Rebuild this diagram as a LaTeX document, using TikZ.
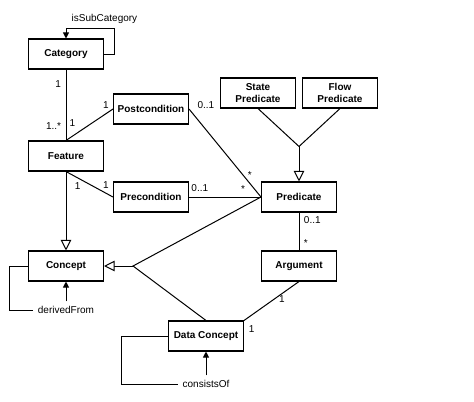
\documentclass[tikz,border=0pt]{standalone}
\usepackage{fontspec}
\setmainfont{Liberation Sans}
\usepackage{xcolor}
\usepackage{tikz}
\usetikzlibrary{arrows.meta, positioning}

\begin{document}
\begin{tikzpicture}[node distance=2cm, on grid,
        font=\fontsize{7.5}{9}\selectfont, line width=0.75pt,
        classbox/.style={draw, line width=0.8pt, minimum width=56.25pt, minimum height=22.5pt,
            inner sep=1pt, align=center, font=\fontsize{7.5}{9}\selectfont\bfseries},
        gen/.style={-{Triangle[open, length=8pt, width=8pt, fill=white]}},
        selfref/.style={-{Triangle[length=4.5pt, width=4.5pt]}}]
        \node[classbox] (category) {Category};
        \node[classbox] (feature) [below=76.5pt of category] {Feature};
        \node[classbox] (concept) [below=82.5pt of feature] {Concept};
        \node[classbox] (post) [above right=35.25pt and 63.75pt of feature] {Postcondition};
        \node[classbox] (pre) [below=66pt of post] {Precondition};
        \node[classbox] (predicate) [right=111pt of pre] {Predicate};
        \node[classbox] (argument) [below=51.75pt of predicate] {Argument};
        \node[classbox] (statepred) [above left=78pt and 30.75pt of predicate] {State\\Predicate};
        \node[classbox] (flowpred) [right=61.5pt of statepred] {Flow\\Predicate};
        \node[classbox] (dataconcept) [below left=52.5pt and 69.75pt of argument] {Data Concept};
        \node (derived) [below=33pt of concept] {derivedFrom};
        \node (consists) [below=36pt of dataconcept] {consistsOf};
        \coordinate[above=26.25pt of predicate.north] (predjoin);
        \coordinate[right=21.75pt of concept.east] (conjoin);

        % frame of the picture
        \path[use as bounding box] ([shift={(-49.5pt,40.5pt)}]category.center) rectangle ++(355.5pt,-300.75pt);

        % associations
        \draw (category) -- node[pos=0.2, left] {1} node[pos=0.8, left] {1..*} (feature);
        \draw (feature.north) -- node[pos=0.3, above left] {1} node[pos=0.85, above] {1} (post.west);
        \draw (feature.south) -- node[pos=0.25, below] {1} node[pos=0.85, above] {1} (pre.west);
        \draw (post.east) -- node[pos=0.05, above right] {0..1} node[pos=0.75, right] {*} (predicate.west);
        \draw (pre.east) -- node[pos=0.15, above] {0..1} node[pos=0.75, above] {*} (predicate.west);
        \draw (predicate) -- node[pos=0.2, right] {0..1} node[pos=0.8, right] {*} (argument);
        \draw (argument.south) -- node[pos=0.45, right] {1} node[pos=1, below right] {1} (dataconcept.north east);

        % generalisations
        \draw[gen] (feature) -- (concept);
        \draw (statepred.south) -- (predjoin) -- (flowpred.south);
        \draw[gen] (predjoin) -- (predicate);
        \draw (predicate.west) -- (conjoin) -- (dataconcept.north);
        \draw[gen] (conjoin) -- (concept);

        % self references
        \draw[selfref] (category.east) -- ++(7.5pt,0) |- node[pos=0.6, above] {isSubCategory}
            ([yshift=7.5pt]category.north) -- (category.north);
        \draw (concept.west) -- ++(-13.5pt,0) |- (derived.west);
        \draw[selfref] (derived.north) -- (concept.south);
        \draw (dataconcept.west) -- ++(-34.5pt,0) |- (consists.west);
        \draw[selfref] (consists.north) -- (dataconcept.south);
\end{tikzpicture}
\end{document}
